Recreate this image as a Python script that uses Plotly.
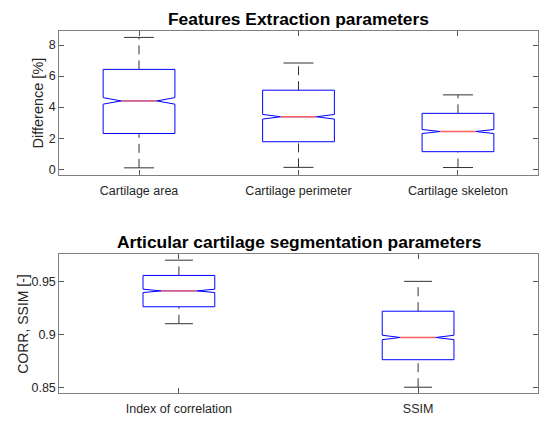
import plotly.graph_objects as go

# Features extraction parameters (difference in %)
feat_labels = ["Cartilage area", "Cartilage perimeter", "Cartilage skeleton"]
feat_low = [0.09, 0.12, 0.11]
feat_q1 = [2.30, 1.77, 1.13]
feat_median = [4.40, 3.38, 2.43]
feat_q3 = [6.43, 5.09, 3.60]
feat_high = [8.49, 6.84, 4.79]
feat_notch = [0.21, 0.15, 0.13]

# Articular cartilage segmentation parameters
seg_labels = ["Index of correlation", "SSIM"]
seg_low = [0.910, 0.850]
seg_q1 = [0.926, 0.876]
seg_median = [0.941, 0.897]
seg_q3 = [0.9556, 0.9218]
seg_high = [0.970, 0.950]
seg_notch = [0.0016, 0.0021]

font = "Liberation Sans, Arial, sans-serif"
txt = "#262626"
notchw = 0.25

# the page puts the plot 8px in from the top-left corner
W, H, OFF = 542, 421, 8


def px(p):
    return (p - OFF) / W


def py(p):
    return 1 - (p - OFF) / H


fig = go.Figure()


def add_panel(xa, ya, labels, low, q1, med, q3, high, notch, width, capw):
    pos = list(range(1, len(labels) + 1))
    fig.add_trace(go.Box(
        x=pos, q1=q1, median=med, q3=q3, lowerfence=q1, upperfence=q3,
        notchspan=notch, notched=True, notchwidth=notchw, width=width,
        whiskerwidth=0, boxpoints=False, fillcolor="rgba(0,0,0,0)",
        line=dict(color="#0000ff", width=1), xaxis=xa, yaxis=ya,
        showlegend=False, hoverinfo="skip"))

    # dashed whiskers
    wx, wy = [], []
    for p, lo, a, b, hi in zip(pos, low, q1, q3, high):
        wx += [p, p, None, p, p, None]
        wy += [b, hi, None, lo, a, None]
    fig.add_trace(go.Scatter(x=wx, y=wy, mode="lines", xaxis=xa, yaxis=ya,
                             line=dict(color="#333333", width=1, dash="9px,6px"),
                             showlegend=False, hoverinfo="skip"))

    # whisker caps
    cx, cy = [], []
    for p, lo, hi in zip(pos, low, high):
        cx += [p - capw, p + capw, None, p - capw, p + capw, None]
        cy += [hi, hi, None, lo, lo, None]
    fig.add_trace(go.Scatter(x=cx, y=cy, mode="lines", xaxis=xa, yaxis=ya,
                             line=dict(color="#333333", width=1),
                             showlegend=False, hoverinfo="skip"))

    # red median
    mh = width / 2 * (1 - 2 * notchw)
    mx, my = [], []
    for p, m in zip(pos, med):
        mx += [p - mh, p + mh, None]
        my += [m, m, None]
    fig.add_trace(go.Scatter(x=mx, y=my, mode="lines", xaxis=xa, yaxis=ya,
                             line=dict(color="#ff6060", width=1.4),
                             showlegend=False, hoverinfo="skip"))


add_panel("x", "y", feat_labels, feat_low, feat_q1, feat_median, feat_q3,
          feat_high, feat_notch, 0.45, 0.094)
add_panel("x2", "y2", seg_labels, seg_low, seg_q1, seg_median, seg_q3,
          seg_high, seg_notch, 0.30, 0.0585)

axis_style = dict(showline=True, linecolor="#808080", linewidth=1, mirror="ticks",
                  ticks="inside", ticklen=5, tickcolor="#555555",
                  showgrid=False, zeroline=False,
                  tickfont=dict(family=font, size=12.5, color=txt))

xdom = [px(59.3), px(537.7)]
top_dom = [py(175.3), py(31)]
bot_dom = [py(395), py(255)]
fig.update_layout(
    width=W, height=H,
    margin=dict(l=0, r=0, t=0, b=0),
    paper_bgcolor="white", plot_bgcolor="white",
    xaxis=dict(domain=xdom, anchor="y", range=[0.5, 3.5], ticklabelstandoff=4,
               tickvals=[1, 2, 3], ticktext=feat_labels, **axis_style),
    yaxis=dict(domain=top_dom, anchor="x", range=[-0.34, 8.91],
               tickvals=[0, 2, 4, 6, 8], **axis_style),
    xaxis2=dict(domain=xdom, anchor="y2", range=[0.5, 2.5], ticklabelstandoff=4,
                tickvals=[1, 2], ticktext=seg_labels, **axis_style),
    yaxis2=dict(domain=bot_dom, anchor="x2", range=[0.8444, 0.976],
                tickvals=[0.85, 0.9, 0.95], ticktext=["0.85", "0.9", "0.95"],
                **axis_style),
)

# titles and y labels
title_font = dict(family=font, size=17.4, color="black")
fig.add_annotation(text="<b>Features Extraction parameters</b>", x=px(298.5), y=py(19.5),
                   xref="paper", yref="paper", xanchor="center", yanchor="middle",
                   showarrow=False, font=title_font)
fig.add_annotation(text="<b>Articular cartilage segmentation parameters</b>", x=px(298.5),
                   y=py(243.5), xref="paper", yref="paper", xanchor="center",
                   yanchor="middle", showarrow=False, font=title_font)
fig.add_annotation(text="Difference [%]", x=px(37.8), y=(top_dom[0] + top_dom[1]) / 2,
                   xref="paper", yref="paper", xanchor="center", yanchor="middle",
                   showarrow=False, textangle=-90,
                   font=dict(family=font, size=14.5, color=txt))
fig.add_annotation(text="CORR, SSIM [-]", x=px(23.3), y=(bot_dom[0] + bot_dom[1]) / 2,
                   xref="paper", yref="paper", xanchor="center", yanchor="middle",
                   showarrow=False, textangle=-90,
                   font=dict(family=font, size=14, color=txt))

fig.write_html("out.html")
